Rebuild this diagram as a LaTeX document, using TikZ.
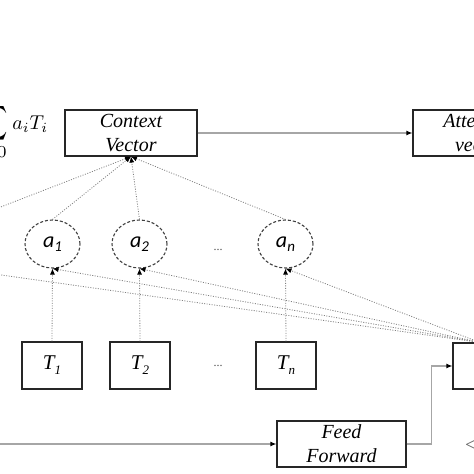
\documentclass[tikz,border=0pt]{standalone}
\usepackage{fontspec}
\setmainfont{Liberation Serif}
\newfontfamily\carl{Carlito}
\usetikzlibrary{arrows.meta,shapes.geometric,calc}
\newcommand\alab[1]{{\carl\itshape\fontsize{22}{22}\selectfont a\raisebox{-4pt}{\fontsize{15}{15}\selectfont #1}}}
\newcommand\tlab[1]{{\fontsize{21}{21}\selectfont\itshape T\raisebox{-5pt}{\fontsize{13}{13}\selectfont #1}}}
\tikzset{
 box/.style={draw=black!85, line width=1.1pt, fill=white, font=\fontsize{20}{24}\selectfont\itshape, align=center, inner sep=0pt},
 tbox/.style={box, minimum width=60pt, minimum height=47pt},
 circ/.style={ellipse, draw=black!75, line width=1.1pt, dash pattern=on 3pt off 2pt, minimum width=55pt, minimum height=48pt, inner sep=0pt},
 dotl/.style={draw=black!50, line width=0.8pt, dash pattern=on 1pt off 1.5pt},
 solidl/.style={draw=black!35, line width=1.2pt},
 tip/.style={-{Latex[length=6pt,width=5pt,color=black]}},
 dotsn/.style={text=black!70, font=\fontsize{12}{12}\selectfont, inner sep=0pt}
}
\begin{document}
\begin{tikzpicture}[x=1pt,y=-1pt]
\clip (0,0) rectangle (474,474);
\fill[white] (0,0) rectangle (474,474);
% boxes
\node[box, minimum width=132pt, minimum height=46pt] (cv) at (131,133) {Context\\Vector};
\node[box, minimum width=134pt, minimum height=46pt] (av) at (480,133) {Attention\\vector};
\node[box, minimum width=129pt, minimum height=46pt] (ff) at (341.5,444) {Feed\\Forward};
\node[box, minimum width=54pt, minimum height=46pt] (rb) at (480,366) {};
\node[tbox] (t1) at (52,365.5) {\tlab{1}};
\node[tbox] (t2) at (140,365.5) {\tlab{2}};
\node[tbox] (tn) at (286,365.5) {\tlab{n}};
% circles
\node[circ] (a1) at (52.5,244) {\alab{1}};
\node[circ] (a2) at (139.5,244) {\alab{2}};
\node[circ] (an) at (285.5,244) {\alab{n}};
\node[dotsn] (d1) at (218,250) {...};
\node[dotsn] (d2) at (218,366) {...};
% sum
\node[anchor=north east, inner sep=0pt, scale=2.4] (sum) at (9,104) {$\displaystyle\sum_{i=0}$};
\node[anchor=west, inner sep=0pt, scale=2.0] (ati) at (12,124) {$a_iT_i$};
\node[anchor=west, inner sep=0pt, text=black!60, font=\fontsize{20}{20}\selectfont] (lt) at (465,446) {<};
% free ends
\coordinate (lc) at (-20,215);
\coordinate (lc2) at (-20,272);
\coordinate (lin) at (-10,444);
% dotted connectors
\draw[dotl,tip] (lc) -- (cv.south);
\draw[dotl,tip] (a1.north) -- (cv.south);
\draw[dotl,tip] (a2.north) -- (cv.south);
\draw[dotl,tip] (an.north) -- (cv.south);
\draw[dotl,tip] (t1.north) -- (a1.south);
\draw[dotl,tip] (t2.north) -- (a2.south);
\draw[dotl,tip] (tn.north) -- (an.south);
\draw[dotl,tip] (rb.north) -- (a1.south);
\draw[dotl,tip] (rb.north) -- (a2.south);
\draw[dotl,tip] (rb.north) -- (an.south);
\draw[dotl] (rb.north) -- (lc2);
% solid connectors
\draw[solidl,tip] (cv.east) -- (av.west);
\draw[solidl,tip] (lin) -- (ff.west);
\draw[solidl,tip] (ff.east) -- ++(25,0) |- (rb.west);
\end{tikzpicture}
\end{document}
